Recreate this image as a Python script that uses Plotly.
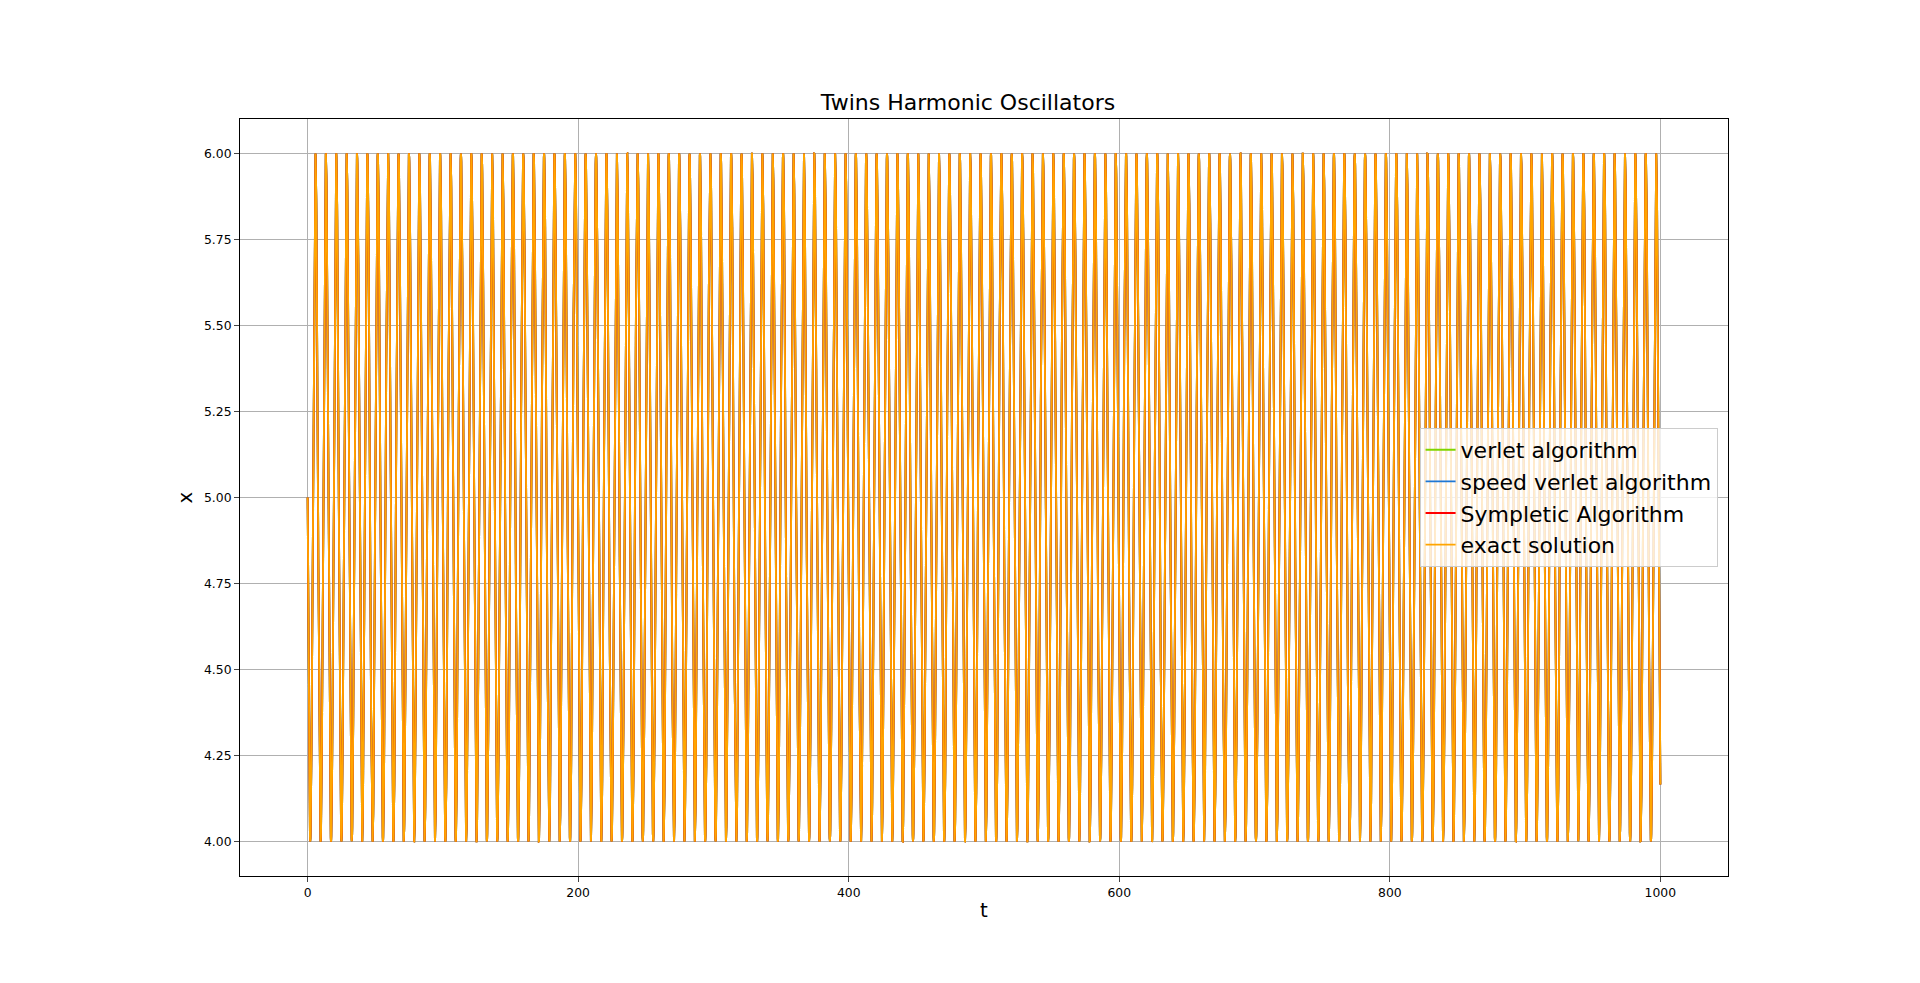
import numpy as np
import plotly.graph_objects as go

# Series parameters (exact solution x = centre - amp*sin(omega t))
t_start, t_end, dt = 0.0, 1000.0, 0.1
centre = 5.0
amp = 1.0
omega = 0.8178
series_names = ["verlet algorithm", "speed verlet algorithm", "Sympletic Algorithm", "exact solution"]
series_colors = ["#7fd500", "#1f77d4", "#ff0000", "#ffa500"]
x_ticks = [0, 200, 400, 600, 800, 1000]
y_ticks = [4.00, 4.25, 4.50, 4.75, 5.00, 5.25, 5.50, 5.75, 6.00]

t = np.arange(t_start, t_end + dt / 2, dt)
x = centre - amp * np.sin(omega * t)

S = 1.239
fig = go.Figure()
for name, col in zip(series_names, series_colors):
    fig.add_trace(go.Scatter(x=t, y=x, mode="lines", name=name,
                             line=dict(color=col, width=1.5 * S)))

fig.update_layout(
    width=1920, height=983,
    paper_bgcolor="white", plot_bgcolor="white",
    margin=dict(l=232, r=200, t=111, b=115),
    title=dict(text="Twins Harmonic Oscillators", x=0.5, xanchor="center",
               y=1 - 76 * S / 983, yanchor="middle",
               font=dict(family="DejaVu Sans", size=22, color="black")),
    font=dict(family="DejaVu Sans", color="black"),
    legend=dict(x=0.993, xanchor="right", y=0.5, yanchor="middle",
                bgcolor="rgba(255,255,255,0.8)", bordercolor="#cccccc", borderwidth=1,
                font=dict(size=22)),
    xaxis=dict(range=[-50, 1050], tickvals=x_ticks, showgrid=True, gridcolor="#b0b0b0",
               gridwidth=1, showline=True, linecolor="black", mirror=True, ticks="outside",
               ticklen=5, tickfont=dict(size=10 * S), zeroline=False,
               title=dict(text="t", font=dict(size=16 * S), standoff=4)),
    yaxis=dict(range=[3.9, 6.1], tickvals=y_ticks, tickformat=".2f", showgrid=True,
               gridcolor="#b0b0b0", gridwidth=1, showline=True, linecolor="black",
               mirror=True, ticks="outside", ticklen=5, tickfont=dict(size=10 * S),
               zeroline=False, title=dict(text="x", font=dict(size=16 * S), standoff=6)),
)
fig.write_html("out.html")
